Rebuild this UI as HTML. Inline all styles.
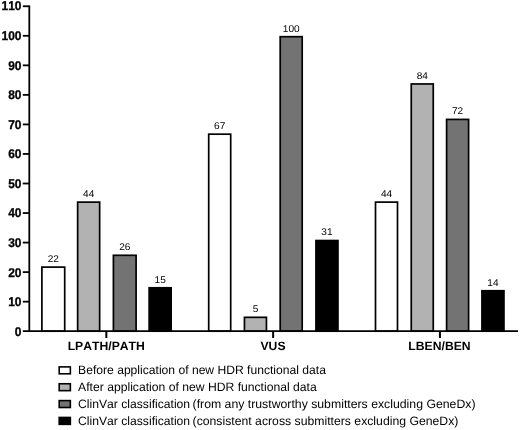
<!DOCTYPE html><html><head><meta charset="utf-8"><title>chart</title><style>html,body{margin:0;padding:0;background:#fff}svg{display:block}text{text-rendering:geometricPrecision;font-kerning:none;font-family:"Liberation Sans",Arial,sans-serif;fill:#000}</style></head><body>
<svg width="520" height="430" viewBox="0 0 520 430">
<rect width="520" height="430" fill="#fff"/>
<rect x="41.90" y="267.11" width="22.80" height="64.09" fill="#ffffff" stroke="#000" stroke-width="1.7"/>
<text transform="translate(53.30 262.01) scale(1.03 1)" font-size="9.8" text-anchor="middle">22</text>
<rect x="77.65" y="202.12" width="22.00" height="129.08" fill="#b2b2b2" stroke="#000" stroke-width="1.7"/>
<text transform="translate(88.65 197.02) scale(1.03 1)" font-size="9.8" text-anchor="middle">44</text>
<rect x="113.40" y="255.30" width="22.70" height="75.90" fill="#737373" stroke="#000" stroke-width="1.7"/>
<text transform="translate(124.75 250.20) scale(1.03 1)" font-size="9.8" text-anchor="middle">26</text>
<rect x="149.15" y="287.79" width="22.00" height="43.41" fill="#000000" stroke="#000" stroke-width="1.7"/>
<text transform="translate(160.15 282.69) scale(1.03 1)" font-size="9.8" text-anchor="middle">15</text>
<rect x="208.70" y="134.18" width="22.00" height="197.02" fill="#ffffff" stroke="#000" stroke-width="1.7"/>
<text transform="translate(219.70 129.08) scale(1.03 1)" font-size="9.8" text-anchor="middle">67</text>
<rect x="244.45" y="317.33" width="22.00" height="13.87" fill="#b2b2b2" stroke="#000" stroke-width="1.7"/>
<text transform="translate(255.45 312.23) scale(1.03 1)" font-size="9.8" text-anchor="middle">5</text>
<rect x="280.20" y="36.70" width="22.00" height="294.50" fill="#737373" stroke="#000" stroke-width="1.7"/>
<text transform="translate(291.20 31.60) scale(1.03 1)" font-size="9.8" text-anchor="middle">100</text>
<rect x="315.95" y="240.53" width="22.00" height="90.67" fill="#000000" stroke="#000" stroke-width="1.7"/>
<text transform="translate(326.95 235.43) scale(1.03 1)" font-size="9.8" text-anchor="middle">31</text>
<rect x="375.50" y="202.12" width="22.00" height="129.08" fill="#ffffff" stroke="#000" stroke-width="1.7"/>
<text transform="translate(386.50 197.02) scale(1.03 1)" font-size="9.8" text-anchor="middle">44</text>
<rect x="411.25" y="83.96" width="22.00" height="247.24" fill="#b2b2b2" stroke="#000" stroke-width="1.7"/>
<text transform="translate(422.25 78.86) scale(1.03 1)" font-size="9.8" text-anchor="middle">84</text>
<rect x="446.60" y="119.41" width="22.00" height="211.79" fill="#737373" stroke="#000" stroke-width="1.7"/>
<text transform="translate(457.60 114.31) scale(1.03 1)" font-size="9.8" text-anchor="middle">72</text>
<rect x="481.95" y="290.74" width="22.00" height="40.46" fill="#000000" stroke="#000" stroke-width="1.7"/>
<text transform="translate(492.95 285.64) scale(1.03 1)" font-size="9.8" text-anchor="middle">14</text>
<line x1="29.3" y1="5.4" x2="29.3" y2="331.2" stroke="#000" stroke-width="1.8"/>
<line x1="22.8" y1="331.2" x2="518" y2="331.2" stroke="#000" stroke-width="1.8"/>
<line x1="22.8" y1="301.66" x2="29.3" y2="301.66" stroke="#000" stroke-width="1.8"/>
<line x1="22.8" y1="272.12" x2="29.3" y2="272.12" stroke="#000" stroke-width="1.8"/>
<line x1="22.8" y1="242.58" x2="29.3" y2="242.58" stroke="#000" stroke-width="1.8"/>
<line x1="22.8" y1="213.04" x2="29.3" y2="213.04" stroke="#000" stroke-width="1.8"/>
<line x1="22.8" y1="183.50" x2="29.3" y2="183.50" stroke="#000" stroke-width="1.8"/>
<line x1="22.8" y1="153.96" x2="29.3" y2="153.96" stroke="#000" stroke-width="1.8"/>
<line x1="22.8" y1="124.42" x2="29.3" y2="124.42" stroke="#000" stroke-width="1.8"/>
<line x1="22.8" y1="94.88" x2="29.3" y2="94.88" stroke="#000" stroke-width="1.8"/>
<line x1="22.8" y1="65.34" x2="29.3" y2="65.34" stroke="#000" stroke-width="1.8"/>
<line x1="22.8" y1="35.80" x2="29.3" y2="35.80" stroke="#000" stroke-width="1.8"/>
<line x1="22.8" y1="6.26" x2="29.3" y2="6.26" stroke="#000" stroke-width="1.8"/>
<text transform="translate(21.50 335.75) scale(0.945 1)" font-size="12.7" font-weight="bold" stroke="#000" stroke-width="0.3" text-anchor="end">0</text>
<text transform="translate(21.50 306.17) scale(0.945 1)" font-size="12.7" font-weight="bold" stroke="#000" stroke-width="0.3" text-anchor="end">10</text>
<text transform="translate(21.50 276.59) scale(0.945 1)" font-size="12.7" font-weight="bold" stroke="#000" stroke-width="0.3" text-anchor="end">20</text>
<text transform="translate(21.50 247.01) scale(0.945 1)" font-size="12.7" font-weight="bold" stroke="#000" stroke-width="0.3" text-anchor="end">30</text>
<text transform="translate(21.50 217.43) scale(0.945 1)" font-size="12.7" font-weight="bold" stroke="#000" stroke-width="0.3" text-anchor="end">40</text>
<text transform="translate(21.50 187.85) scale(0.945 1)" font-size="12.7" font-weight="bold" stroke="#000" stroke-width="0.3" text-anchor="end">50</text>
<text transform="translate(21.50 158.27) scale(0.945 1)" font-size="12.7" font-weight="bold" stroke="#000" stroke-width="0.3" text-anchor="end">60</text>
<text transform="translate(21.50 128.69) scale(0.945 1)" font-size="12.7" font-weight="bold" stroke="#000" stroke-width="0.3" text-anchor="end">70</text>
<text transform="translate(21.50 99.11) scale(0.945 1)" font-size="12.7" font-weight="bold" stroke="#000" stroke-width="0.3" text-anchor="end">80</text>
<text transform="translate(21.50 69.53) scale(0.945 1)" font-size="12.7" font-weight="bold" stroke="#000" stroke-width="0.3" text-anchor="end">90</text>
<text transform="translate(21.50 39.95) scale(0.945 1)" font-size="12.7" font-weight="bold" stroke="#000" stroke-width="0.3" text-anchor="end">100</text>
<text transform="translate(21.50 10.37) scale(0.945 1)" font-size="12.7" font-weight="bold" stroke="#000" stroke-width="0.3" text-anchor="end">110</text>
<line x1="106.33" y1="331.2" x2="106.33" y2="338" stroke="#000" stroke-width="2"/>
<text x="106.23" y="350.3" font-size="12" font-weight="bold" text-anchor="middle" textLength="77.1" lengthAdjust="spacingAndGlyphs">LPATH/PATH</text>
<line x1="273.13" y1="331.2" x2="273.13" y2="338" stroke="#000" stroke-width="2"/>
<text x="273.03" y="349.9" font-size="12" font-weight="bold" text-anchor="middle" textLength="25.0" lengthAdjust="spacingAndGlyphs">VUS</text>
<line x1="439.93" y1="331.2" x2="439.93" y2="338" stroke="#000" stroke-width="2"/>
<text x="439.48" y="350.2" font-size="12" font-weight="bold" text-anchor="middle" textLength="62.2" lengthAdjust="spacingAndGlyphs">LBEN/BEN</text>
<rect x="59.2" y="366.90" width="11.15" height="6.9" fill="#ffffff" stroke="#000" stroke-width="1.6"/>
<text x="78.10" y="374.25" font-size="12.15" textLength="247.80" lengthAdjust="spacingAndGlyphs">Before application of new HDR functional data</text>
<rect x="59.2" y="383.75" width="11.15" height="6.9" fill="#b2b2b2" stroke="#000" stroke-width="1.6"/>
<text x="78.10" y="391.10" font-size="12.15" textLength="238.66" lengthAdjust="spacingAndGlyphs">After application of new HDR functional data</text>
<rect x="59.2" y="400.60" width="11.15" height="6.9" fill="#737373" stroke="#000" stroke-width="1.6"/>
<text y="407.95" font-size="12.15"><tspan x="78.10">ClinVar classification </tspan><tspan x="192.57" textLength="282.92" lengthAdjust="spacingAndGlyphs">(from any trustworthy submitters excluding GeneDx)</tspan></text>
<rect x="59.2" y="417.45" width="11.15" height="6.9" fill="#000000" stroke="#000" stroke-width="1.6"/>
<text y="424.80" font-size="12.15"><tspan x="78.10">ClinVar classification </tspan><tspan x="192.57" textLength="265.78" lengthAdjust="spacingAndGlyphs">(consistent across submitters excluding GeneDx)</tspan></text>
</svg></body></html>
